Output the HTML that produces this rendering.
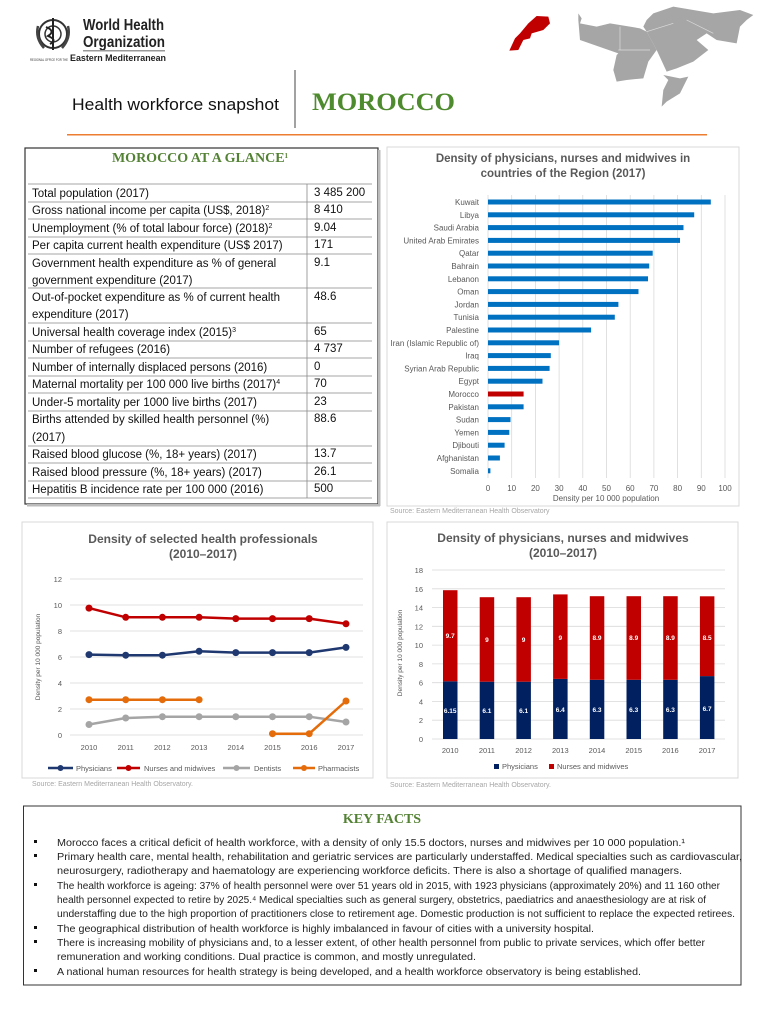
<!DOCTYPE html>
<html><head><meta charset="utf-8"><style>
html,body{margin:0;padding:0;background:#fff;}
svg{display:block;}
text{font-family:"Liberation Sans",sans-serif;}
.serif{font-family:"Liberation Serif",serif;font-weight:bold;}
</style></head><body>
<svg width="768" height="1024" viewBox="0 0 768 1024" xmlns="http://www.w3.org/2000/svg">
<!-- Header -->
<g>
<circle cx="53" cy="34" r="14" fill="none" stroke="#333" stroke-width="2"/>
<circle cx="53" cy="34" r="8" fill="none" stroke="#333" stroke-width="1.5"/>
<path d="M53 18 V50 M46 27 Q56 31 48 36 Q58 40 50 44" stroke="#222" stroke-width="2" fill="none"/>
<path d="M38 26 Q35 38 44 48 M68 26 Q71 38 62 48" stroke="#444" stroke-width="2.5" fill="none"/>
<text x="83" y="30" font-size="15.5" font-weight="bold" fill="#222" textLength="81" lengthAdjust="spacingAndGlyphs">World Health</text>
<text x="83" y="47" font-size="15.5" font-weight="bold" fill="#222" textLength="82" lengthAdjust="spacingAndGlyphs">Organization</text>
<rect x="83" y="50" width="82" height="1.5" fill="#999"/>
<text x="30" y="61" font-size="4" fill="#333" textLength="38" lengthAdjust="spacingAndGlyphs">REGIONAL OFFICE FOR THE</text>
<text x="70" y="61" font-size="9" font-weight="bold" fill="#222" textLength="96" lengthAdjust="spacingAndGlyphs">Eastern Mediterranean</text>
<text x="72" y="110" font-size="17" fill="#111" textLength="207" lengthAdjust="spacingAndGlyphs">Health workforce snapshot</text>
<rect x="294.5" y="70" width="1" height="58" fill="#444"/>
<text x="312" y="110" class="serif" font-size="25" fill="#4e8a2e" textLength="143" lengthAdjust="spacingAndGlyphs">MOROCCO</text>
<rect x="67" y="134" width="640" height="1.5" fill="#ec7d31"/>
<g transform="translate(500,0) scale(0.3333)">
<polygon fill="#c00000" points="28,152 45,115 60,100 85,70 110,48 145,50 150,70 130,90 95,100 90,115 70,120 55,150"/>
<polygon fill="#a6a6a6" points="235,40 245,55 240,70 290,80 330,70 420,85 440,95 470,150 445,185 430,235 380,240 350,245 340,210 350,165 355,160 240,120 235,60"/>
<polygon fill="#a6a6a6" points="440,60 460,40 520,20 640,40 720,30 760,45 740,60 720,80 710,130 650,120 620,100 590,120 625,150 580,185 530,205 500,215 470,150 440,95 430,80"/>
<polygon fill="#a6a6a6" points="490,225 540,235 565,230 540,280 500,305 485,320 490,270 505,240"/>
<path d="M355,150 H450 M360,80 V150 M440,95 L520,70 M560,60 L640,100" stroke="#ddd" stroke-width="2" fill="none"/>
</g>
</g>

<!-- Table -->
<g>
<rect x="25" y="148" width="353" height="356" fill="#fff" stroke="#333" stroke-width="1.2"/>
<rect x="378" y="150" width="2.5" height="356" fill="#bbb"/>
<rect x="27" y="504" width="353" height="2.5" fill="#bbb"/>
<text x="200" y="162" class="serif" font-size="14" fill="#548235" text-anchor="middle">MOROCCO AT A GLANCE<tspan font-size="7" dy="-4">1</tspan></text>
<g stroke="#888" stroke-width="0.8">
<line x1="28" y1="184" x2="372" y2="184"/>
<line x1="28" y1="202" x2="372" y2="202"/>
<line x1="28" y1="219" x2="372" y2="219"/>
<line x1="28" y1="237" x2="372" y2="237"/>
<line x1="28" y1="254" x2="372" y2="254"/>
<line x1="28" y1="288" x2="372" y2="288"/>
<line x1="28" y1="323" x2="372" y2="323"/>
<line x1="28" y1="341" x2="372" y2="341"/>
<line x1="28" y1="358" x2="372" y2="358"/>
<line x1="28" y1="376" x2="372" y2="376"/>
<line x1="28" y1="393" x2="372" y2="393"/>
<line x1="28" y1="411" x2="372" y2="411"/>
<line x1="28" y1="446" x2="372" y2="446"/>
<line x1="28" y1="463" x2="372" y2="463"/>
<line x1="28" y1="481" x2="372" y2="481"/>
<line x1="28" y1="498" x2="372" y2="498"/>
<line x1="307" y1="184" x2="307" y2="498"/>
</g>
<g font-size="11.5" fill="#111">
<text x="32" y="197">Total population (2017)</text><text x="314" y="196">3 485 200</text>
<text x="32" y="214">Gross national income per capita (US$, 2018)<tspan font-size="7" dy="-4">2</tspan></text><text x="314" y="213">8 410</text>
<text x="32" y="232">Unemployment (% of total labour force) (2018)<tspan font-size="7" dy="-4">2</tspan></text><text x="314" y="231">9.04</text>
<text x="32" y="249">Per capita current health expenditure (US$ 2017)</text><text x="314" y="248">171</text>
<text x="32" y="267">Government health expenditure as % of general</text><text x="314" y="266">9.1</text>
<text x="32" y="284">government expenditure (2017)</text>
<text x="32" y="301">Out-of-pocket expenditure as % of current health</text><text x="314" y="300">48.6</text>
<text x="32" y="318">expenditure (2017)</text>
<text x="32" y="336">Universal health coverage index (2015)<tspan font-size="7" dy="-4">3</tspan></text><text x="314" y="335">65</text>
<text x="32" y="353">Number of refugees (2016)</text><text x="314" y="352">4 737</text>
<text x="32" y="371">Number of internally displaced persons (2016)</text><text x="314" y="370">0</text>
<text x="32" y="388">Maternal mortality per 100 000 live births (2017)<tspan font-size="7" dy="-4">4</tspan></text><text x="314" y="387">70</text>
<text x="32" y="406">Under-5 mortality per 1000 live births (2017)</text><text x="314" y="405">23</text>
<text x="32" y="423">Births attended by skilled health personnel (%)</text><text x="314" y="422">88.6</text>
<text x="32" y="441">(2017)</text>
<text x="32" y="458">Raised blood glucose (%, 18+ years) (2017)</text><text x="314" y="457">13.7</text>
<text x="32" y="476">Raised blood pressure (%, 18+ years) (2017)</text><text x="314" y="475">26.1</text>
<text x="32" y="493">Hepatitis B incidence rate per 100 000 (2016)</text><text x="314" y="492">500</text>
</g>
</g>

<!-- Bar chart -->
<g>
<rect x="387" y="147" width="352" height="359" fill="#fff" stroke="#d9d9d9"/>
<text x="563" y="162" font-size="11.5" font-weight="bold" fill="#595959" text-anchor="middle">Density of physicians, nurses and midwives in</text>
<text x="563" y="177" font-size="11.5" font-weight="bold" fill="#595959" text-anchor="middle">countries of the Region (2017)</text>
<g stroke="#d9d9d9" stroke-width="0.8">
<line x1="488" y1="195" x2="488" y2="478"/><line x1="511.7" y1="195" x2="511.7" y2="478"/><line x1="535.4" y1="195" x2="535.4" y2="478"/><line x1="559.1" y1="195" x2="559.1" y2="478"/><line x1="582.8" y1="195" x2="582.8" y2="478"/><line x1="606.5" y1="195" x2="606.5" y2="478"/><line x1="630.2" y1="195" x2="630.2" y2="478"/><line x1="653.9" y1="195" x2="653.9" y2="478"/><line x1="677.6" y1="195" x2="677.6" y2="478"/><line x1="701.3" y1="195" x2="701.3" y2="478"/><line x1="725" y1="195" x2="725" y2="478"/>
</g>
<g fill="#0070c0">
<rect x="488" y="199.5" width="222.8" height="5"/>
<rect x="488" y="212.3" width="206.2" height="5"/>
<rect x="488" y="225.1" width="195.5" height="5"/>
<rect x="488" y="237.9" width="192" height="5"/>
<rect x="488" y="250.7" width="164.7" height="5"/>
<rect x="488" y="263.5" width="161.2" height="5"/>
<rect x="488" y="276.3" width="160" height="5"/>
<rect x="488" y="289.1" width="150.5" height="5"/>
<rect x="488" y="301.9" width="130.4" height="5"/>
<rect x="488" y="314.7" width="126.8" height="5"/>
<rect x="488" y="327.5" width="103.1" height="5"/>
<rect x="488" y="340.3" width="71.1" height="5"/>
<rect x="488" y="353.1" width="62.8" height="5"/>
<rect x="488" y="365.9" width="61.6" height="5"/>
<rect x="488" y="378.7" width="54.5" height="5"/>
<rect x="488" y="391.5" width="35.6" height="5" fill="#c00000"/>
<rect x="488" y="404.3" width="35.6" height="5"/>
<rect x="488" y="417.1" width="22.5" height="5"/>
<rect x="488" y="429.9" width="21.3" height="5"/>
<rect x="488" y="442.7" width="16.6" height="5"/>
<rect x="488" y="455.5" width="11.9" height="5"/>
<rect x="488" y="468.3" width="2.4" height="5"/>
</g>
<g font-size="8" fill="#595959" text-anchor="end">
<text x="479" y="205">Kuwait</text><text x="479" y="217.8">Libya</text><text x="479" y="230.6">Saudi Arabia</text><text x="479" y="243.4">United Arab Emirates</text><text x="479" y="256.2">Qatar</text><text x="479" y="269">Bahrain</text><text x="479" y="281.8">Lebanon</text><text x="479" y="294.6">Oman</text><text x="479" y="307.4">Jordan</text><text x="479" y="320.2">Tunisia</text><text x="479" y="333">Palestine</text><text x="479" y="345.8">Iran (Islamic Republic of)</text><text x="479" y="358.6">Iraq</text><text x="479" y="371.4">Syrian Arab Republic</text><text x="479" y="384.2">Egypt</text><text x="479" y="397">Morocco</text><text x="479" y="409.8">Pakistan</text><text x="479" y="422.6">Sudan</text><text x="479" y="435.4">Yemen</text><text x="479" y="448.2">Djibouti</text><text x="479" y="461">Afghanistan</text><text x="479" y="473.8">Somalia</text>
</g>
<g font-size="8" fill="#595959" text-anchor="middle">
<text x="488" y="491">0</text><text x="511.7" y="491">10</text><text x="535.4" y="491">20</text><text x="559.1" y="491">30</text><text x="582.8" y="491">40</text><text x="606.5" y="491">50</text><text x="630.2" y="491">60</text><text x="653.9" y="491">70</text><text x="677.6" y="491">80</text><text x="701.3" y="491">90</text><text x="725" y="491">100</text>
<text x="606" y="501">Density per 10 000 population</text>
</g>
<text x="390" y="513" font-size="7" fill="#a6a6a6">Source: Eastern Mediterranean Health Observatory</text>
</g>

<!-- Line chart -->
<g>
<rect x="22" y="522" width="351" height="256" fill="#fff" stroke="#d9d9d9"/>
<text x="203" y="543" font-size="12" font-weight="bold" fill="#595959" text-anchor="middle">Density of selected health professionals</text>
<text x="203" y="558" font-size="12" font-weight="bold" fill="#595959" text-anchor="middle">(2010–2017)</text>
<g stroke="#d9d9d9" stroke-width="0.8">
<line x1="70" y1="579" x2="363" y2="579"/><line x1="70" y1="605" x2="363" y2="605"/><line x1="70" y1="631" x2="363" y2="631"/><line x1="70" y1="657" x2="363" y2="657"/><line x1="70" y1="683" x2="363" y2="683"/><line x1="70" y1="709" x2="363" y2="709"/><line x1="70" y1="735" x2="363" y2="735"/>
</g>
<g font-size="7.5" fill="#595959" text-anchor="end">
<text x="62" y="582">12</text><text x="62" y="608">10</text><text x="62" y="634">8</text><text x="62" y="660">6</text><text x="62" y="686">4</text><text x="62" y="712">2</text><text x="62" y="738">0</text>
</g>
<g font-size="7.5" fill="#595959" text-anchor="middle">
<text x="89" y="750">2010</text><text x="125.7" y="750">2011</text><text x="162.4" y="750">2012</text><text x="199.1" y="750">2013</text><text x="235.8" y="750">2014</text><text x="272.5" y="750">2015</text><text x="309.2" y="750">2016</text><text x="346" y="750">2017</text>
</g>
<text transform="translate(40,657) rotate(-90)" font-size="6.5" fill="#595959" text-anchor="middle">Density per 10 000 population</text>
<g fill="none" stroke-width="2.5">
<polyline stroke="#a5a5a5" points="89,724.5 125.7,718 162.4,716.7 199.1,716.7 235.8,716.7 272.5,716.7 309.2,716.7 346,722"/>
<polyline stroke="#e46c0a" points="89,699.7 125.7,699.7 162.4,699.7 199.1,699.7"/>
<polyline stroke="#e46c0a" points="272.5,733.7 309.2,733.7 346,701"/>
<polyline stroke="#1f3870" points="89,654.6 125.7,655.2 162.4,655.2 199.1,651.3 235.8,652.6 272.5,652.6 309.2,652.6 346,647.4"/>
<polyline stroke="#c00000" points="89,608.1 125.7,617.3 162.4,617.3 199.1,617.3 235.8,618.6 272.5,618.6 309.2,618.6 346,623.8"/>
</g>
<g fill="#a5a5a5"><circle cx="89" cy="724.5" r="3.5"/><circle cx="125.7" cy="718" r="3.5"/><circle cx="162.4" cy="716.7" r="3.5"/><circle cx="199.1" cy="716.7" r="3.5"/><circle cx="235.8" cy="716.7" r="3.5"/><circle cx="272.5" cy="716.7" r="3.5"/><circle cx="309.2" cy="716.7" r="3.5"/><circle cx="346" cy="722" r="3.5"/></g>
<g fill="#e46c0a"><circle cx="89" cy="699.7" r="3.5"/><circle cx="125.7" cy="699.7" r="3.5"/><circle cx="162.4" cy="699.7" r="3.5"/><circle cx="199.1" cy="699.7" r="3.5"/><circle cx="272.5" cy="733.7" r="3.5"/><circle cx="309.2" cy="733.7" r="3.5"/><circle cx="346" cy="701" r="3.5"/></g>
<g fill="#1f3870"><circle cx="89" cy="654.6" r="3.5"/><circle cx="125.7" cy="655.2" r="3.5"/><circle cx="162.4" cy="655.2" r="3.5"/><circle cx="199.1" cy="651.3" r="3.5"/><circle cx="235.8" cy="652.6" r="3.5"/><circle cx="272.5" cy="652.6" r="3.5"/><circle cx="309.2" cy="652.6" r="3.5"/><circle cx="346" cy="647.4" r="3.5"/></g>
<g fill="#c00000"><circle cx="89" cy="608.1" r="3.5"/><circle cx="125.7" cy="617.3" r="3.5"/><circle cx="162.4" cy="617.3" r="3.5"/><circle cx="199.1" cy="617.3" r="3.5"/><circle cx="235.8" cy="618.6" r="3.5"/><circle cx="272.5" cy="618.6" r="3.5"/><circle cx="309.2" cy="618.6" r="3.5"/><circle cx="346" cy="623.8" r="3.5"/></g>
<g stroke-width="2.5">
<line x1="48" y1="768" x2="73" y2="768" stroke="#1f3870"/><circle cx="60.5" cy="768" r="3" fill="#1f3870"/>
<line x1="117" y1="768" x2="140" y2="768" stroke="#c00000"/><circle cx="128.5" cy="768" r="3" fill="#c00000"/>
<line x1="223" y1="768" x2="250" y2="768" stroke="#a5a5a5"/><circle cx="236.5" cy="768" r="3" fill="#a5a5a5"/>
<line x1="293" y1="768" x2="315" y2="768" stroke="#e46c0a"/><circle cx="304" cy="768" r="3" fill="#e46c0a"/>
</g>
<g font-size="7.5" fill="#595959">
<text x="76" y="771">Physicians</text><text x="144" y="771">Nurses and midwives</text><text x="254" y="771">Dentists</text><text x="318" y="771">Pharmacists</text>
</g>
<text x="32" y="786" font-size="7" fill="#a6a6a6">Source: Eastern Mediterranean Health Observatory.</text>
</g>

<!-- Stacked chart -->
<g>
<rect x="387" y="522" width="351" height="256" fill="#fff" stroke="#d9d9d9"/>
<text x="563" y="542" font-size="12" font-weight="bold" fill="#595959" text-anchor="middle">Density of physicians, nurses and midwives</text>
<text x="563" y="557" font-size="12" font-weight="bold" fill="#595959" text-anchor="middle">(2010–2017)</text>
<g stroke="#d9d9d9" stroke-width="0.8">
<line x1="432" y1="570" x2="725" y2="570"/><line x1="432" y1="588.8" x2="725" y2="588.8"/><line x1="432" y1="607.6" x2="725" y2="607.6"/><line x1="432" y1="626.3" x2="725" y2="626.3"/><line x1="432" y1="645.1" x2="725" y2="645.1"/><line x1="432" y1="663.9" x2="725" y2="663.9"/><line x1="432" y1="682.7" x2="725" y2="682.7"/><line x1="432" y1="701.4" x2="725" y2="701.4"/><line x1="432" y1="720.2" x2="725" y2="720.2"/><line x1="432" y1="739" x2="725" y2="739"/>
</g>
<g font-size="7.5" fill="#595959" text-anchor="end">
<text x="423" y="573">18</text><text x="423" y="591.8">16</text><text x="423" y="610.6">14</text><text x="423" y="629.3">12</text><text x="423" y="648.1">10</text><text x="423" y="666.9">8</text><text x="423" y="685.7">6</text><text x="423" y="704.4">4</text><text x="423" y="723.2">2</text><text x="423" y="742">0</text>
</g>
<text transform="translate(402,653) rotate(-90)" font-size="6.5" fill="#595959" text-anchor="middle">Density per 10 000 population</text>
<g fill="#002060">
<rect x="443" y="681.3" width="14.5" height="57.7"/>
<rect x="479.7" y="681.7" width="14.5" height="57.3"/>
<rect x="516.4" y="681.7" width="14.5" height="57.3"/>
<rect x="553.1" y="678.9" width="14.5" height="60.1"/>
<rect x="589.8" y="679.8" width="14.5" height="59.2"/>
<rect x="626.5" y="679.8" width="14.5" height="59.2"/>
<rect x="663.2" y="679.8" width="14.5" height="59.2"/>
<rect x="699.9" y="676.1" width="14.5" height="62.9"/>
</g>
<g fill="#c00000">
<rect x="443" y="590.2" width="14.5" height="91.1"/>
<rect x="479.7" y="597.2" width="14.5" height="84.5"/>
<rect x="516.4" y="597.2" width="14.5" height="84.5"/>
<rect x="553.1" y="594.4" width="14.5" height="84.5"/>
<rect x="589.8" y="596.2" width="14.5" height="83.6"/>
<rect x="626.5" y="596.2" width="14.5" height="83.6"/>
<rect x="663.2" y="596.2" width="14.5" height="83.6"/>
<rect x="699.9" y="596.3" width="14.5" height="79.8"/>
</g>
<g font-size="6.5" fill="#fff" text-anchor="middle" font-weight="bold">
<text x="450.2" y="638">9.7</text><text x="486.9" y="642">9</text><text x="523.6" y="642">9</text><text x="560.3" y="640">9</text><text x="597" y="640">8.9</text><text x="633.7" y="640">8.9</text><text x="670.4" y="640">8.9</text><text x="707.1" y="640">8.5</text>
<text x="450.2" y="713">6.15</text><text x="486.9" y="713">6.1</text><text x="523.6" y="713">6.1</text><text x="560.3" y="712">6.4</text><text x="597" y="712">6.3</text><text x="633.7" y="712">6.3</text><text x="670.4" y="712">6.3</text><text x="707.1" y="711">6.7</text>
</g>
<g font-size="7.5" fill="#595959" text-anchor="middle">
<text x="450.2" y="753">2010</text><text x="486.9" y="753">2011</text><text x="523.6" y="753">2012</text><text x="560.3" y="753">2013</text><text x="597" y="753">2014</text><text x="633.7" y="753">2015</text><text x="670.4" y="753">2016</text><text x="707.1" y="753">2017</text>
</g>
<rect x="494" y="764" width="5" height="5" fill="#002060"/><text x="502" y="769" font-size="7.5" fill="#595959">Physicians</text>
<rect x="549" y="764" width="5" height="5" fill="#c00000"/><text x="557" y="769" font-size="7.5" fill="#595959">Nurses and midwives</text>
<text x="390" y="787" font-size="7" fill="#a6a6a6">Source: Eastern Mediterranean Health Observatory.</text>
</g>

<!-- Key facts -->
<g>
<rect x="23.5" y="806" width="717.5" height="179" fill="none" stroke="#333" stroke-width="1"/>
<text x="382" y="823" class="serif" font-size="14" fill="#548235" text-anchor="middle">KEY FACTS</text>
<g fill="#111">
<rect x="34" y="840" width="3" height="3"/><rect x="34" y="854" width="3" height="3"/><rect x="34" y="883" width="3" height="3"/><rect x="34" y="926" width="3" height="3"/><rect x="34" y="940" width="3" height="3"/><rect x="34" y="969" width="3" height="3"/>
</g>
<g font-size="10" fill="#222">
<text x="57" y="846" textLength="628" lengthAdjust="spacingAndGlyphs">Morocco faces a critical deficit of health workforce, with a density of only 15.5 doctors, nurses and midwives per 10 000 population.¹</text>
<text x="57" y="860" textLength="685" lengthAdjust="spacingAndGlyphs">Primary health care, mental health, rehabilitation and geriatric services are particularly understaffed. Medical specialties such as cardiovascular,</text>
<text x="57" y="874" textLength="625" lengthAdjust="spacingAndGlyphs">neurosurgery, radiotherapy and haematology are experiencing workforce deficits. There is also a shortage of qualified managers.</text>
<text x="57" y="889" textLength="663" lengthAdjust="spacingAndGlyphs">The health workforce is ageing: 37% of health personnel were over 51 years old in 2015, with 1923 physicians (approximately 20%) and 11 160 other</text>
<text x="57" y="903" textLength="649" lengthAdjust="spacingAndGlyphs">health personnel expected to retire by 2025.⁴ Medical specialties such as general surgery, obstetrics, paediatrics and anaesthesiology are at risk of</text>
<text x="57" y="917" textLength="678" lengthAdjust="spacingAndGlyphs">understaffing due to the high proportion of practitioners close to retirement age.  Domestic production is not sufficient to replace the expected retirees.</text>
<text x="57" y="932" textLength="537" lengthAdjust="spacingAndGlyphs">The geographical distribution of health workforce is highly imbalanced in favour of cities with a university hospital.</text>
<text x="57" y="946" textLength="648" lengthAdjust="spacingAndGlyphs">There is increasing mobility of physicians and, to a lesser extent, of other health personnel from public to private services, which offer better</text>
<text x="57" y="960" textLength="419" lengthAdjust="spacingAndGlyphs">remuneration and working conditions. Dual practice is common, and mostly unregulated.</text>
<text x="57" y="975" textLength="584" lengthAdjust="spacingAndGlyphs">A national human resources for health strategy is being developed, and a health workforce observatory is being established.</text>
</g>
</g>
</svg>
</body></html>
